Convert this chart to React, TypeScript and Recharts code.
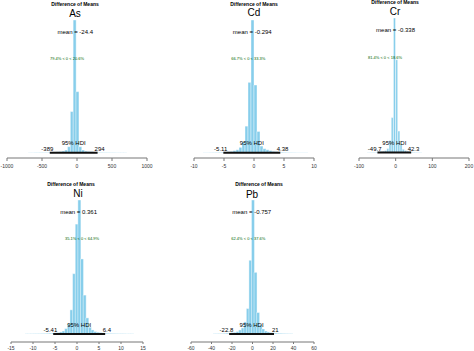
import React from 'react';
import { ComposedChart, Bar, XAxis, YAxis, ReferenceLine, ReferenceDot } from 'recharts';

const FONT = '"Liberation Sans", Arial, Helvetica, sans-serif';
const SKY = '#87CEEB';
const GREEN = '#006400';

// As
const asStart = -675;
const asBinWidth = 40;
const asCounts = [
  0.2, 0.2, 0.25, 0.25, 0.3, 0.3, 0.35, 0.4, 0.45, 0.55, 0.7, 0.9, 1.2, 2, 4.5, 31, 100, 46,
  4.5, 2, 1.2, 0.9, 0.7, 0.55, 0.45, 0.4, 0.35, 0.3, 0.3, 0.25, 0.25, 0.2, 0.2, 0.2, 0.2,
];
const asTicks = [-1000, -500, 0, 500, 1000];
const asMean = -24.4;
const asHdi = [-389, 294];
const asBelow = 79.4;

// Cd
const cdStart = -8.25;
const cdBinWidth = 0.5;
const cdCounts = [
  0.2, 0.2, 0.25, 0.3, 0.35, 0.4, 0.5, 0.6, 0.8, 1.0, 1.5, 2.2, 4, 8, 20, 53, 100, 51, 16,
  5, 3, 2.2, 1.5, 1.0, 0.8, 0.6, 0.5, 0.4, 0.35, 0.3, 0.25, 0.2, 0.2, 0.2, 0.2,
];
const cdTicks = [-10, -5, 0, 5, 10];
const cdMean = -0.294;
const cdHdi = [-5.11, 4.38];
const cdBelow = 66.7;

// Cr
const crStart = -75;
const crBinWidth = 6;
const crCounts = [
  0.2, 0.25, 0.3, 0.35, 0.45, 0.55, 0.7, 1.0, 1.5, 3, 9, 26, 100, 69, 16, 6, 2.5, 1.5, 1.0,
  0.8, 0.6, 0.45, 0.35, 0.3, 0.25,
];
const crTicks = [-100, 0, 100, 200];
const crMean = -0.338;
const crHdi = [-49.7, 42.3];
const crBelow = 81.4;

// Ni
const niStart = -11.5;
const niBinWidth = 0.6;
const niCounts = [
  0.2, 0.2, 0.24, 0.26, 0.3, 0.32, 0.38, 0.42, 0.5, 0.6, 0.75, 0.9, 1.1, 1.5, 2.2, 4, 7.5,
  18, 45, 82, 100, 56, 29, 12, 5, 3, 1.8, 1.3, 1.0, 0.8, 0.65, 0.55, 0.45, 0.4, 0.35, 0.3,
  0.28, 0.25, 0.22, 0.2, 0.2,
];
const niTicks = [-15, -10, -5, 0, 5, 10, 15];
const niMean = 0.361;
const niHdi = [-5.41, 6.4];
const niBelow = 35.1;

// Pb
const pbStart = -37.25;
const pbBinWidth = 2.5;
const pbCounts = [
  0.25, 0.3, 0.35, 0.4, 0.5, 0.65, 0.8, 1, 1.2, 1.8, 3, 4.5, 9, 19, 55, 100, 46, 16, 7,
  3.7, 2.2, 1.5, 1.1, 0.9, 0.75, 0.6, 0.5, 0.4, 0.35, 0.3, 0.25,
];
const pbTicks = [-60, -40, -20, 0, 20, 40, 60];
const pbMean = -0.757;
const pbHdi = [-22.8, 21];
const pbBelow = 62.4;

const measureCtx =
  typeof document !== 'undefined' ? document.createElement('canvas').getContext('2d') : null;

const textWidth = (s: string, size: number) => {
  if (!measureCtx) return s.length * size * 0.55;
  measureCtx.font = `${size}px ${FONT}`;
  return measureCtx.measureText(s).width;
};

// text placed like R's text(..., adj = c(frac, 0.5))
const adjText = (label: string, frac: number, size: number, color: string) => (p: any) => {
  const w = textWidth(label, size);
  return (
    <text
      x={p.cx - frac * w}
      y={p.cy}
      fontSize={size}
      fontFamily={FONT}
      fill={color}
      textAnchor="start"
      dominantBaseline="central"
    >
      {label}
    </text>
  );
};

const fmt = (v: number) => `${v}`;

interface PanelProps {
  name: string;
  start: number;
  binWidth: number;
  counts: number[];
  ticks: number[];
  mean: number;
  hdi: number[];
  below: number;
  left: number;
  top: number;
  width: number;
  height: number;
  margin: { top: number; right: number; bottom: number; left: number };
  axisHeight: number;
  yMin: number;
  tickSize: number;
  tickMargin: number;
  title: { x: number; y: number };
  label: { x: number; y: number };
}

const Panel: React.FC<PanelProps> = (p) => {
  const data = p.counts.map((c, i) => ({ x: p.start + i * p.binWidth, y: c }));
  const above = Math.round((100 - p.below) * 10) / 10;
  const compText = `${p.below.toFixed(1)}% < 0 < ${above.toFixed(1)}%`;
  const hdiMid = (p.hdi[0] + p.hdi[1]) / 2;
  return (
    <>
      <div
        style={{
          position: 'absolute',
          left: p.left,
          top: p.top,
          width: p.width,
          height: p.height,
        }}
      >
        <ComposedChart
          width={p.width}
          height={p.height}
          data={data}
          margin={p.margin}
          barCategoryGap={0}
          barGap={0}
          style={{ overflow: 'visible' }}
        >
          <XAxis
            type="number"
            dataKey="x"
            domain={[p.ticks[0], p.ticks[p.ticks.length - 1]]}
            ticks={p.ticks}
            interval={0}
            allowDataOverflow
            height={p.axisHeight}
            tickSize={p.tickSize}
            tickMargin={p.tickMargin}
            stroke="#777"
            tickFormatter={fmt}
            tick={{ fontSize: 5, fill: '#333', fontFamily: FONT }}
          />
          <YAxis hide domain={[p.yMin, 100]} allowDataOverflow />
          <Bar
            dataKey="y"
            fill={SKY}
            stroke="#ffffff"
            strokeWidth={0.4}
            isAnimationActive={false}
          />
          <ReferenceLine
            segment={[
              { x: p.hdi[0], y: 0 },
              { x: p.hdi[1], y: 0 },
            ]}
            stroke="#111"
            strokeWidth={2}
          />
          <ReferenceDot x={p.mean} y={91} shape={adjText(`mean = ${p.mean}`, 0.5, 6, '#000')} />
          <ReferenceDot x={0} y={71} shape={adjText(compText, p.below / 100, 4, GREEN)} />
          <ReferenceDot x={hdiMid} y={7} shape={adjText('95% HDI', 0.5, 6, '#000')} />
          <ReferenceDot x={p.hdi[0]} y={2.8} shape={adjText(`${p.hdi[0]}`, 0.7, 6, '#000')} />
          <ReferenceDot x={p.hdi[1]} y={2.8} shape={adjText(`${p.hdi[1]}`, 0.3, 6, '#000')} />
        </ComposedChart>
      </div>
      <div
        style={{
          position: 'absolute',
          left: p.title.x,
          top: p.title.y - 3,
          transform: 'translateX(-50%)',
          fontSize: 5,
          lineHeight: '6px',
          fontWeight: 'bold',
          whiteSpace: 'nowrap',
          color: '#000',
        }}
      >
        Difference of Means
      </div>
      <div
        style={{
          position: 'absolute',
          left: p.label.x,
          top: p.label.y - 6,
          transform: 'translateX(-50%)',
          fontSize: 10,
          lineHeight: '12px',
          whiteSpace: 'nowrap',
          color: '#000',
        }}
      >
        {p.name}
      </div>
    </>
  );
};

export default function App() {
  return (
    <div
      style={{
        position: 'absolute',
        left: 0,
        top: 0,
        width: 474,
        height: 351,
        background: '#fff',
        overflow: 'hidden',
        fontFamily: FONT,
      }}
    >
      <Panel
        name="As"
        start={asStart}
        binWidth={asBinWidth}
        counts={asCounts}
        ticks={asTicks}
        mean={asMean}
        hdi={asHdi}
        below={asBelow}
        left={0}
        top={0}
        width={160}
        height={175}
        margin={{ top: 20, right: 13, bottom: 0, left: 7 }}
        axisHeight={17}
        yMin={-4}
        tickSize={3}
        tickMargin={3}
        title={{ x: 75, y: 4 }}
        label={{ x: 75, y: 13.5 }}
      />
      <Panel
        name="Cd"
        start={cdStart}
        binWidth={cdBinWidth}
        counts={cdCounts}
        ticks={cdTicks}
        mean={cdMean}
        hdi={cdHdi}
        below={cdBelow}
        left={160}
        top={0}
        width={160}
        height={175}
        margin={{ top: 20, right: 6, bottom: 0, left: 34 }}
        axisHeight={17}
        yMin={-4}
        tickSize={3}
        tickMargin={3}
        title={{ x: 254, y: 4 }}
        label={{ x: 254, y: 13 }}
      />
      <Panel
        name="Cr"
        start={crStart}
        binWidth={crBinWidth}
        counts={crCounts}
        ticks={crTicks}
        mean={crMean}
        hdi={crHdi}
        below={crBelow}
        left={320}
        top={0}
        width={154}
        height={175}
        margin={{ top: 18, right: 5, bottom: 0, left: 39 }}
        axisHeight={17}
        yMin={-4}
        tickSize={3}
        tickMargin={3}
        title={{ x: 395, y: 1.5 }}
        label={{ x: 395, y: 12 }}
      />
      <Panel
        name="Ni"
        start={niStart}
        binWidth={niBinWidth}
        counts={niCounts}
        ticks={niTicks}
        mean={niMean}
        hdi={niHdi}
        below={niBelow}
        left={0}
        top={175}
        width={160}
        height={176}
        margin={{ top: 25, right: 17, bottom: 0, left: 11 }}
        axisHeight={9}
        yMin={-6}
        tickSize={2}
        tickMargin={2}
        title={{ x: 71, y: 184 }}
        label={{ x: 78, y: 194 }}
      />
      <Panel
        name="Pb"
        start={pbStart}
        binWidth={pbBinWidth}
        counts={pbCounts}
        ticks={pbTicks}
        mean={pbMean}
        hdi={pbHdi}
        below={pbBelow}
        left={160}
        top={175}
        width={160}
        height={176}
        margin={{ top: 25, right: 6, bottom: 0, left: 31 }}
        axisHeight={9}
        yMin={-6}
        tickSize={2}
        tickMargin={2}
        title={{ x: 259, y: 184 }}
        label={{ x: 252, y: 195 }}
      />
    </div>
  );
}
